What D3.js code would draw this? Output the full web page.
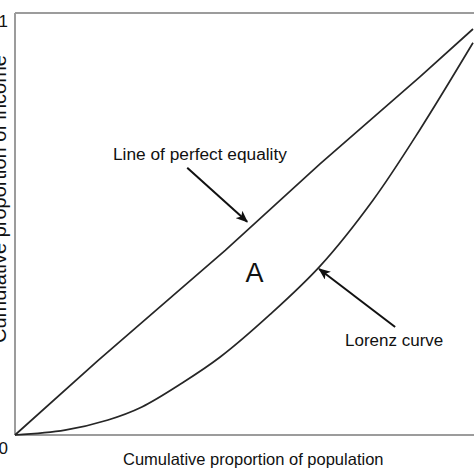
<!DOCTYPE html>
<html>
<head>
<meta charset="utf-8">
<script src="https://cdn.jsdelivr.net/npm/d3@7"></script>
<style>
html,body{margin:0;padding:0;background:#fff;}
svg{display:block;}
text{font-family:"Liberation Sans",Arial,Helvetica,sans-serif;fill:#111;}
</style>
</head>
<body>
<svg id="chart" width="474" height="474"></svg>
<script>
// Data (cumulative proportions)
const equalityX = [0, 0.181, 0.365, 0.459, 0.666, 0.884, 1];
const equalityY = [0, 0.183, 0.363, 0.455, 0.668, 0.882, 1];
const lorenzX = [0, 0.109, 0.203, 0.277, 0.365, 0.448, 0.557, 0.666, 0.782, 0.884, 1];
const lorenzY = [0, 0.012, 0.037, 0.069, 0.128, 0.192, 0.297, 0.416, 0.579, 0.752, 0.966];
const tickLabels = ["0", "1"];
const xTitle = "Cumulative proportion of population";
const yTitle = "Cumulative proportion of income";
const annotations = ["Line of perfect equality", "Lorenz curve", "A"];

const svg = d3.select("#chart");
const x = d3.scaleLinear().domain([0, 1]).range([15, 473]);
const y = d3.scaleLinear().domain([0, 1]).range([435, 29]);

// frame
const frame = svg.append("g").attr("stroke", "#9c9c9c").attr("stroke-width", 2).attr("fill", "none");
frame.append("line").attr("x1", x(0)).attr("x2", x(0)).attr("y1", 13).attr("y2", y(0));
frame.append("line").attr("x1", x(0)).attr("x2", 480).attr("y1", 13).attr("y2", 13);
frame.append("line").attr("x1", x(0)).attr("x2", 480).attr("y1", y(0)).attr("y2", y(0));

// tick labels
svg.append("text").attr("x", 8).attr("y", y(0) + 19).attr("text-anchor", "end")
  .attr("font-size", 17).text(tickLabels[0]);
svg.append("text").attr("x", 8).attr("y", y(1) - 2).attr("text-anchor", "end")
  .attr("font-size", 17).text(tickLabels[1]);

// titles
svg.append("text").attr("x", 123).attr("y", 465).attr("font-size", 16.5).text(xTitle);
svg.append("text").attr("transform", "translate(6,199) rotate(-90)")
  .attr("text-anchor", "middle").attr("font-size", 20).text(yTitle);

// lines
const eqData = equalityX.map((d, i) => [d, equalityY[i]]);
const lzData = lorenzX.map((d, i) => [d, lorenzY[i]]);
const lineLin = d3.line().x(d => x(d[0])).y(d => y(d[1]));
const lineSmooth = d3.line().x(d => x(d[0])).y(d => y(d[1])).curve(d3.curveCatmullRom.alpha(0.5));
svg.append("path").datum(eqData).attr("d", lineLin)
  .attr("fill", "none").attr("stroke", "#262626").attr("stroke-width", 1.7);
svg.append("path").datum(lzData).attr("d", lineSmooth)
  .attr("fill", "none").attr("stroke", "#262626").attr("stroke-width", 1.7);

// arrow marker
svg.append("defs").append("marker").attr("id", "ah")
  .attr("viewBox", "0 0 12 10").attr("refX", 11).attr("refY", 5)
  .attr("markerWidth", 12).attr("markerHeight", 10).attr("markerUnits", "userSpaceOnUse")
  .attr("orient", "auto")
  .append("path").attr("d", "M0,0 L12,5 L0,10 L3,5 Z").attr("fill", "#111");

const arrows = [
  {from: [0.376, 0.658], to: [0.507, 0.525]},
  {from: [0.830, 0.266], to: [0.664, 0.409]}
];
svg.selectAll(".arrow").data(arrows).join("line").attr("class", "arrow")
  .attr("x1", d => x(d.from[0])).attr("y1", d => y(d.from[1]))
  .attr("x2", d => x(d.to[0])).attr("y2", d => y(d.to[1]))
  .attr("stroke", "#111").attr("stroke-width", 2).attr("marker-end", "url(#ah)");

// annotation text
svg.append("text").attr("x", 113).attr("y", 160).attr("font-size", 17.3).text(annotations[0]);
svg.append("text").attr("x", 345).attr("y", 346).attr("font-size", 17).text(annotations[1]);
svg.append("text").attr("x", 254.5).attr("y", 282).attr("text-anchor", "middle")
  .attr("font-size", 27).text(annotations[2]);
</script>
</body>
</html>
